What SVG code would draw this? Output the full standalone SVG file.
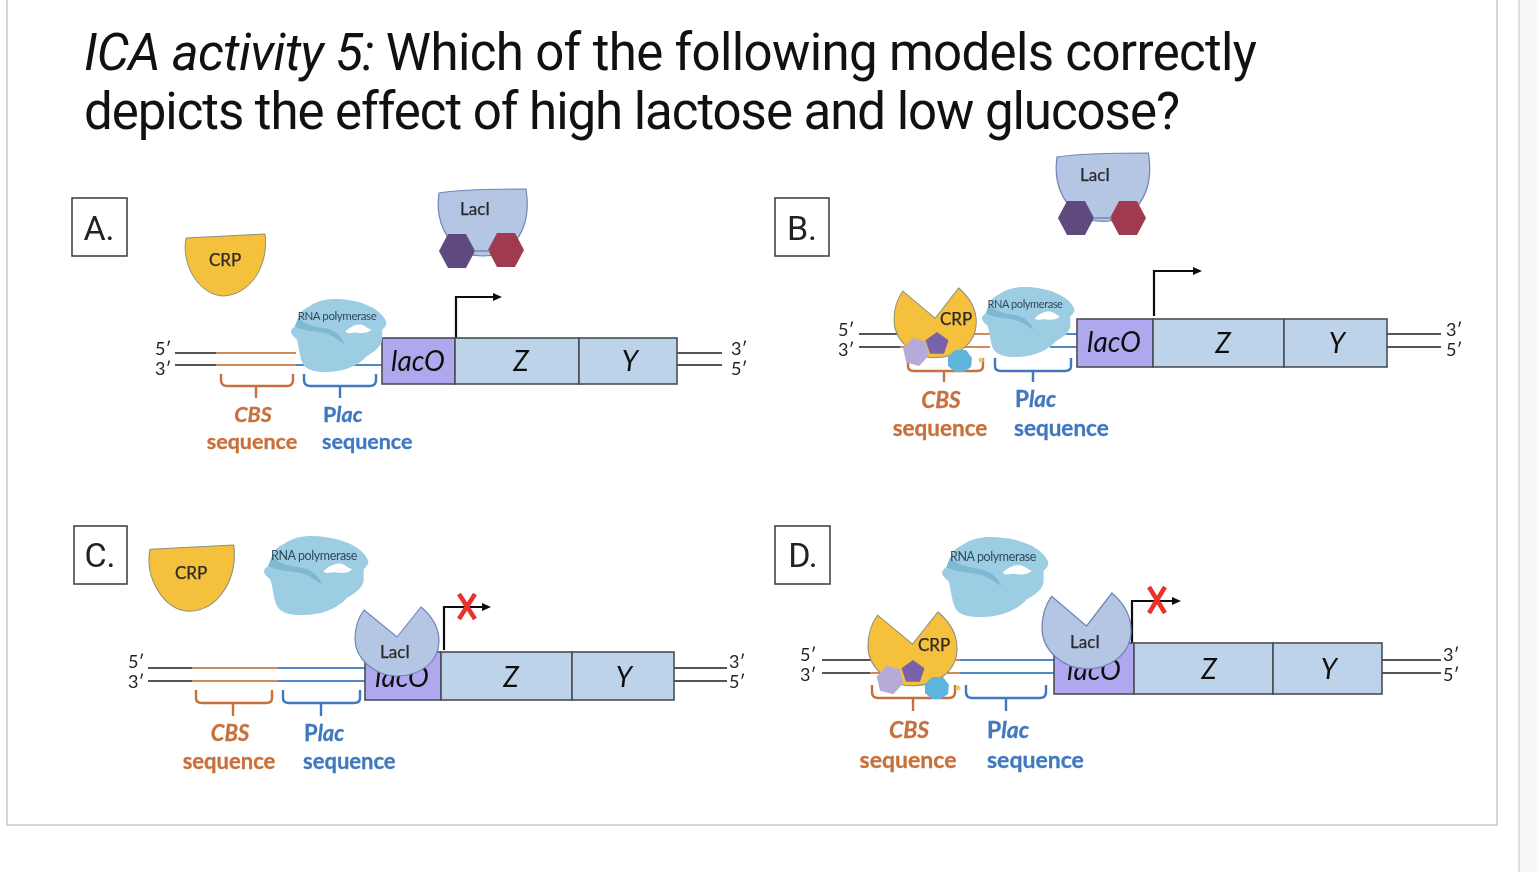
<svg xmlns="http://www.w3.org/2000/svg" width="1537" height="872" viewBox="0 0 1537 872">
<style>
text{font-family:"Lato","Open Sans","Liberation Sans",sans-serif}
.title{font-family:"Roboto","Liberation Sans",Arial,sans-serif;font-size:51px;fill:#111}
.box{fill:#fff;stroke:#3a3a3a;stroke-width:1.5}
.ltr{font-family:"Roboto","Liberation Sans",Arial,sans-serif;font-size:34px;fill:#222;text-anchor:middle}
.dna{stroke:#555;stroke-width:1.8;fill:none}
.o{stroke:#D08A5A;stroke-width:2;fill:none}
.b{stroke:#4F8AC8;stroke-width:2;fill:none}
.arrow{stroke:#111;stroke-width:2.2;fill:none;marker-end:url(#head)}
.br-o{stroke:#C8703A;stroke-width:2.4;fill:none}
.br-b{stroke:#3F78C0;stroke-width:2.4;fill:none}
.lac{fill:#B0A8EE;stroke:#4a4f55;stroke-width:1.6}
.gene{fill:#BDD3EA;stroke:#4a4f55;stroke-width:1.6}
.g{font-size:28px;font-style:italic;fill:#111;text-anchor:middle}
.end{font-size:18px;fill:#222}
.crp{fill:#F5C03B;stroke:#8A8F80;stroke-width:1}
.laci{fill:#B5C6E4;stroke:#6F88B8;stroke-width:1.2}
.pl{font-size:17px;fill:#2a2a2a;text-anchor:middle;stroke:#2a2a2a;stroke-width:.25}
.rl{fill:#2F4A5C;text-anchor:middle;letter-spacing:-.4px}
.co{font-weight:700;fill:#C8703A;stroke:#C8703A;stroke-width:.3}
.co2{font-weight:700;fill:#C8703A;stroke:#C8703A;stroke-width:.3;font-style:italic}
.bl{font-weight:700;fill:#3F78C0;stroke:#3F78C0;stroke-width:.3}
.x{stroke:#E8302C;stroke-width:4.5;fill:none}
</style>
<defs>
<filter id="soft" x="-2%" y="-2%" width="104%" height="104%"><feGaussianBlur stdDeviation="0.45"/></filter>
<marker id="head" markerWidth="10" markerHeight="9" refX="5" refY="4" orient="auto" markerUnits="userSpaceOnUse"><path d="M0 0L9 4L0 8Z" fill="#111"/></marker>
<symbol id="rnap" viewBox="-2 0 100 75" preserveAspectRatio="none" overflow="visible">
<path fill="#9CCDE2" d="M6.7 20C9 14 12 11 17 9C25 3 35 1 43 1C55 1 68 3 77 7C85 10 92 15 95 20C97 23 98 25 97 27C96 30 94 31 93 32C93 35 93 37 93 40C94 50 82 56 77 59C73 64 62 72 47 74C35 76 18 76 12 68C8 62 8 52 5 42C2 39-1 37-1 34C-1 32 1 30 3 29C4 26 5 23 6.7 20Z"/>
<path fill="#7FB8D2" d="M3 29C15 35 28 33 38 37C44 39 48 44 54 46C50 38 44 33 36 31C24 29 14 28 6.7 20Z"/>
<path fill="#fff" d="M55 34C60 29 67 26 72 27C76 28 78 31 82 32C79 36 72 36 66 35C62 35 58 37 55 34Z"/>
</symbol>
<path id="cup" d="M0 4L79 0C83 31 65 61 37 62C13 61-5 31 0 4Z"/>
<path id="pac" d="M9 3L42 30L66 0C78 10 84 22 84 34C84 55 65 69 42 69C20 69 0 52 0 32C0 22 3 11 9 3Z"/>
<path id="hex" d="M-9-17L9-17L18 0L9 17L-9 17L-18 0Z"/>
<path id="pent" d="M0-12L11.5-3.7L7 9.7L-7 9.7L-11.5-3.7Z"/>
<path id="blob" d="M-5-11L6-11L12-3L11 6L4 11L-5 11L-12 5L-12-4Z"/>
<path id="laciopen" d="M1 4C25 0 65 0 88 0C92 25 86 45 72 58C60 70 30 70 18 58C4 44-2 25 1 4Z"/>
</defs>
<rect width="1537" height="872" fill="#fff"/>
<rect id="page-edge" x="1519" y="0" width="18" height="872" fill="#F8F8F8"/>
<path id="page-line" d="M1519 0V872" stroke="#D8D8D8" stroke-width="1.6" fill="none"/>
<path id="frame" d="M7 0V825H1497V0" fill="none" stroke="#CBCBCB" stroke-width="1.6"/>
<g id="title">
<text class="title" x="84" y="70" textLength="1173" lengthAdjust="spacing"><tspan font-style="italic">ICA activity 5:</tspan> Which of the following models correctly</text>
<text class="title" x="84" y="129" textLength="1096" lengthAdjust="spacing">depicts the effect of high lactose and low glucose?</text>
</g>
<g id="diagram" filter="url(#soft)">
<g id="connectors">
<path class="dna" d="M175 353H216M175 365H216M677 353H722M677 365H722"/>
<path class="o" d="M216 353H296M216 365H296"/><path class="b" d="M296 365H382"/>
<path class="arrow" d="M456 338V297H498"/>
<path class="dna" d="M859 334H900M859 347H900M1387 334H1441M1387 347H1441"/>
<path class="o" d="M900 334H990M900 347H990"/><path class="b" d="M1050 334H1077M1050 347H1077"/>
<path class="arrow" d="M1154 316V271H1198"/>
<path class="dna" d="M148 668H192M148 681H192M674 668H727M674 681H727"/>
<path class="o" d="M192 668H278M192 681H278"/><path class="b" d="M278 668H365M278 681H365"/>
<path class="arrow" d="M444 650V607H487"/>
<path class="dna" d="M822 660H870M822 673H870M1382 660H1441M1382 673H1441"/>
<path class="o" d="M870 660H960M870 673H960"/><path class="b" d="M960 660H1054M960 673H1054"/>
<path class="arrow" d="M1132 645V601H1177"/>
</g>
<g id="box-a"><rect class="box" x="72" y="198" width="55" height="58"/><text class="ltr" x="99" y="240">A.</text></g>
<g id="box-b"><rect class="box" x="775" y="198" width="54" height="58"/><text class="ltr" x="802" y="240">B.</text></g>
<g id="box-c"><rect class="box" x="74" y="526" width="53" height="58"/><text class="ltr" x="100" y="567">C.</text></g>
<g id="box-d"><rect class="box" x="775" y="526" width="55" height="58"/><text class="ltr" x="803" y="567">D.</text></g>

<g id="a-operon">
<rect class="lac" x="382" y="338" width="73" height="46"/><text class="g" x="418" y="371">lacO</text>
<rect class="gene" x="455" y="338" width="124" height="46"/><text class="g" x="521" y="371">Z</text>
<rect class="gene" x="579" y="338" width="98" height="46"/><text class="g" x="630" y="371">Y</text>
</g>
<g id="a-ends"><text class="end" x="155" y="355">5′</text><text class="end" x="155" y="375">3′</text><text class="end" x="731" y="355">3′</text><text class="end" x="731" y="375">5′</text></g>
<g id="a-cbs" font-size="21.5"><path class="br-o" d="M221 374V380Q221 386 227 386H287Q293 386 293 380V374M256 386V398"/>
<text class="co2" x="253" y="422" text-anchor="middle">CBS</text><text class="co" x="252" y="449" text-anchor="middle">sequence</text></g>
<g id="a-plac" font-size="21.5"><path class="br-b" d="M304 374V380Q304 386 310 386H370Q376 386 376 380V374M340 386V398"/>
<text class="bl" x="323" y="422">P<tspan font-style="italic">lac</tspan></text><text class="bl" x="322" y="449">sequence</text></g>
<g id="a-crp"><use href="#cup" class="crp" transform="translate(186,234)"/><text class="pl" x="225" y="266">CRP</text></g>
<g id="a-laci"><use href="#laciopen" class="laci" transform="translate(438,189)"/><text class="pl" x="475" y="215">LacI</text>
<use href="#hex" fill="#5F4A7E" transform="translate(457,251)"/><use href="#hex" fill="#A03A50" transform="translate(506,250)"/><path d="M474 251H490" stroke="#6F88B8" stroke-width="1.5"/></g>
<g id="a-rnap"><use href="#rnap" x="290" y="298" width="97" height="74"/><text class="rl" x="337" y="320" font-size="11.5">RNA polymerase</text></g>

<g id="b-operon">
<rect class="lac" x="1077" y="319" width="76" height="48"/><text class="g" x="1114" y="352">lacO</text>
<rect class="gene" x="1153" y="319" width="131" height="48"/><text class="g" x="1223" y="353">Z</text>
<rect class="gene" x="1284" y="319" width="103" height="48"/><text class="g" x="1337" y="353">Y</text>
</g>
<g id="b-ends"><text class="end" x="838" y="336">5′</text><text class="end" x="838" y="356">3′</text><text class="end" x="1446" y="336">3′</text><text class="end" x="1446" y="356">5′</text></g>
<g id="b-cbs" font-size="22.5"><path class="br-o" d="M908 358V366Q908 371 914 371H977Q983 371 983 366V358M944 371V382"/>
<text class="co2" x="941" y="408" text-anchor="middle">CBS</text><text class="co" x="940" y="436" text-anchor="middle">sequence</text></g>
<g id="b-plac" font-size="22.5"><path class="br-b" d="M995 358V366Q995 371 1001 371H1065Q1071 371 1071 366V358M1033 371V382"/>
<text class="bl" x="1015" y="407">P<tspan font-style="italic">lac</tspan></text><text class="bl" x="1014" y="436">sequence</text></g>
<g id="b-laci"><use href="#laciopen" class="laci" transform="translate(1056,153) scale(1.05,1.02)"/><text class="pl" x="1095" y="181">LacI</text>
<use href="#hex" fill="#5F4A7E" transform="translate(1076,218)"/><use href="#hex" fill="#A03A50" transform="translate(1128,218)"/><path d="M1093 218H1112" stroke="#6F88B8" stroke-width="1.5"/></g>
<g id="b-rnap"><use href="#rnap" x="981" y="286" width="94" height="71"/><text class="rl" x="1025" y="308" font-size="11">RNA polymerase</text></g>
<g id="b-crp"><use href="#pac" class="crp" transform="translate(894,288) scale(.98,1.01)"/><text class="pl" x="956" y="325">CRP</text>
<use href="#hex" fill="#B5AAD8" transform="translate(916,352) rotate(15) scale(.74)"/><use href="#pent" fill="#7A62A8" transform="translate(937,344)"/><use href="#blob" fill="#5FB4DC" transform="translate(960,361)"/><circle cx="981" cy="360" r="2.5" fill="#EBCB6A"/></g>

<g id="c-operon">
<rect class="lac" x="365" y="652" width="76" height="48"/><text class="g" x="402" y="687">lacO</text>
<rect class="gene" x="441" y="652" width="131" height="48"/><text class="g" x="511" y="687">Z</text>
<rect class="gene" x="572" y="652" width="102" height="48"/><text class="g" x="624" y="687">Y</text>
</g>
<g id="c-ends"><text class="end" x="128" y="668">5′</text><text class="end" x="128" y="688">3′</text><text class="end" x="729" y="668">3′</text><text class="end" x="729" y="688">5′</text></g>
<g id="c-cbs" font-size="22"><path class="br-o" d="M196 690V698Q196 703 202 703H266Q272 703 272 698V690M233 703V716"/>
<text class="co2" x="230" y="741" text-anchor="middle">CBS</text><text class="co" x="229" y="769" text-anchor="middle">sequence</text></g>
<g id="c-plac" font-size="22"><path class="br-b" d="M283 690V698Q283 703 289 703H354Q360 703 360 698V690M321 703V716"/>
<text class="bl" x="304" y="741">P<tspan font-style="italic">lac</tspan></text><text class="bl" x="303" y="769">sequence</text></g>
<g id="c-crp"><use href="#cup" class="crp" transform="translate(150,545) scale(1.06,1.07)"/><text class="pl" x="191" y="579">CRP</text></g>
<g id="c-rnap"><use href="#rnap" x="263" y="535" width="106" height="80"/><text class="rl" x="314" y="560" font-size="12.5">RNA polymerase</text></g>
<g id="c-laci"><use href="#pac" class="laci" transform="translate(355,607)"/><text class="pl" x="395" y="658">LacI</text></g>
<g id="c-block"><path class="x" d="M459 594L475 619M475 594L459 619"/></g>

<g id="d-operon">
<rect class="lac" x="1054" y="643" width="80" height="51"/><text class="g" x="1094" y="680">lacO</text>
<rect class="gene" x="1134" y="643" width="139" height="51"/><text class="g" x="1209" y="679">Z</text>
<rect class="gene" x="1273" y="643" width="109" height="51"/><text class="g" x="1329" y="679">Y</text>
</g>
<g id="d-ends"><text class="end" x="800" y="661">5′</text><text class="end" x="800" y="681">3′</text><text class="end" x="1443" y="661">3′</text><text class="end" x="1443" y="681">5′</text></g>
<g id="d-cbs" font-size="23"><path class="br-o" d="M872 685V692Q872 698 878 698H949Q955 698 955 692V685M913 698V711"/>
<text class="co2" x="909" y="738" text-anchor="middle">CBS</text><text class="co" x="908" y="768" text-anchor="middle">sequence</text></g>
<g id="d-plac" font-size="23"><path class="br-b" d="M966 685V692Q966 698 972 698H1040Q1046 698 1046 692V685M1006 698V711"/>
<text class="bl" x="987" y="738">P<tspan font-style="italic">lac</tspan></text><text class="bl" x="987" y="768">sequence</text></g>
<g id="d-rnap"><use href="#rnap" x="941" y="536" width="108" height="81"/><text class="rl" x="993" y="561" font-size="12.5">RNA polymerase</text></g>
<g id="d-crp"><use href="#pac" class="crp" transform="translate(868,612) scale(1.06,1.07)"/><text class="pl" x="934" y="651">CRP</text>
<use href="#hex" fill="#B5AAD8" transform="translate(890,680) rotate(15) scale(.76)"/><use href="#pent" fill="#7A62A8" transform="translate(913,672)"/><use href="#blob" fill="#5FB4DC" transform="translate(937,688)"/><circle cx="958" cy="688" r="2.5" fill="#EBCB6A"/></g>
<g id="d-laci"><use href="#pac" class="laci" transform="translate(1042,593) scale(1.06,1.1)"/><text class="pl" x="1085" y="648">LacI</text></g>
<g id="d-block"><path class="x" d="M1149 587L1165 613M1165 587L1149 613"/></g>
</g>
</svg>
